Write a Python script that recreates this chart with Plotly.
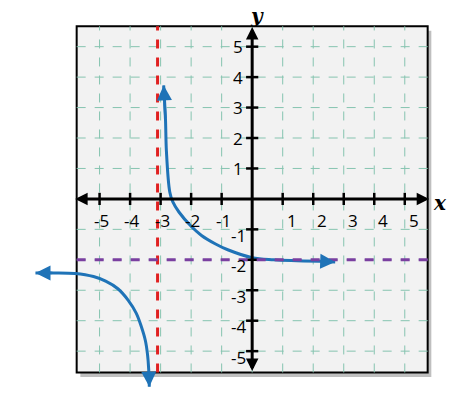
import plotly.graph_objects as go

ticks = [-5, -4, -3, -2, -1, 1, 2, 3, 4, 5]
v_asym = -3.1
h_asym = -2.0
up_x = [-2.9, -2.84, -2.81, -2.7, -2.6, -2.4, -2.0, -1.66, -1.2, -0.8, 0.0, 0.7, 1.47, 2.2, 2.72]
up_y = [3.73, 2.6, 1.57, 0.23, -0.1, -0.43, -0.9, -1.2, -1.48, -1.67, -1.93, -2.0, -2.03, -2.05, -2.07]
lo_x = [-7.1, -6.5, -5.8, -5.2, -4.8, -4.4, -4.06, -3.8, -3.63, -3.5, -3.43, -3.39, -3.37]
lo_y = [-2.43, -2.43, -2.45, -2.55, -2.7, -2.95, -3.33, -3.75, -4.2, -4.65, -5.1, -5.6, -6.17]

fig = go.Figure()
B = dict(x0=-5.75, x1=5.75, y0=-5.7, y1=5.67)
shapes = [
    dict(type="rect", x0=B["x0"]+0.12, x1=B["x1"]+0.12, y0=B["y0"]-0.15, y1=B["y1"]-0.15,
         fillcolor="rgba(0,0,0,0.25)", line=dict(width=0), layer="below"),
    dict(type="rect", **B, fillcolor="#f2f2f2", line=dict(color="black", width=2), layer="below"),
]
for t in range(-5, 6):
    shapes.append(dict(type="line", x0=t, x1=t, y0=B["y0"], y1=B["y1"], line=dict(color="#86c4b0", width=1, dash="dash"), layer="below"))
    shapes.append(dict(type="line", y0=t, y1=t, x0=B["x0"], x1=B["x1"], line=dict(color="#86c4b0", width=1, dash="dash"), layer="below"))
shapes.append(dict(type="line", x0=-5.6, x1=5.6, y0=0, y1=0, line=dict(color="black", width=3)))
shapes.append(dict(type="line", x0=0, x1=0, y0=-5.55, y1=5.5, line=dict(color="black", width=3)))
for t in ticks:
    shapes.append(dict(type="line", x0=t, x1=t, y0=-0.2, y1=0.2, line=dict(color="black", width=2.5)))
    shapes.append(dict(type="line", y0=t, y1=t, x0=-0.2, x1=0.2, line=dict(color="black", width=2.5)))
shapes.append(dict(type="line", x0=v_asym, x1=v_asym, y0=B["y0"], y1=B["y1"], line=dict(color="#e02020", width=3, dash="dash")))
shapes.append(dict(type="line", x0=B["x0"], x1=B["x1"], y0=h_asym, y1=h_asym, line=dict(color="#7a3fa0", width=3, dash="dash")))

blue = "#1f73b7"
fig.add_trace(go.Scatter(x=up_x, y=up_y, mode="lines", line=dict(color=blue, width=3, shape="spline"), hoverinfo="skip"))
fig.add_trace(go.Scatter(x=lo_x, y=lo_y, mode="lines", line=dict(color=blue, width=3, shape="spline"), hoverinfo="skip"))

ann = []
def arrow(x, y, ax, ay, color, size=1.0):
    ann.append(dict(x=x, y=y, ax=ax, ay=ay, xref="x", yref="y", axref="x", ayref="y", text="",
                    showarrow=True, arrowhead=2, arrowsize=size, arrowwidth=2.5, arrowcolor=color))
arrow(5.8, 0, 5.4, 0, "black")
arrow(-5.8, 0, -5.4, 0, "black")
arrow(0, 5.65, 0, 5.2, "black")
arrow(0, -5.65, 0, -5.2, "black")
arrow(up_x[0], up_y[0], up_x[1], up_y[1], blue, 1.2)
arrow(up_x[-1], up_y[-1], up_x[-2], up_y[-2], blue, 1.2)
arrow(lo_x[0], lo_y[0], lo_x[1], lo_y[1], blue, 1.2)
arrow(lo_x[-1], lo_y[-1], lo_x[-2], lo_y[-2], blue, 1.2)
f = dict(family="Open Sans", size=17, color="black")
for t in ticks:
    ann.append(dict(x=t + (0.05 if t < 0 else 0.3), y=-0.7, text=str(t), showarrow=False, font=f, xref="x", yref="y"))
    ann.append(dict(x=-0.45, y=t - (0.2 if t < 0 else 0), text=str(t), showarrow=False, font=f, xref="x", yref="y"))
xf = dict(family="DejaVu Serif", size=20, color="black")
ann.append(dict(x=6.15, y=-0.15, text="<b><i>x</i></b>", showarrow=False, font=xf))
ann.append(dict(x=0.15, y=6.0, text="<b><i>y</i></b>", showarrow=False, font=xf))

fig.update_layout(width=474, height=401, margin=dict(l=0, r=0, t=0, b=0),
                  paper_bgcolor="white", plot_bgcolor="white", showlegend=False,
                  shapes=shapes, annotations=ann,
                  xaxis=dict(range=[-8.0, 7.53], visible=False, fixedrange=True),
                  yaxis=dict(range=[-6.9, 6.27], visible=False, fixedrange=True))
fig.write_html("out.html")
